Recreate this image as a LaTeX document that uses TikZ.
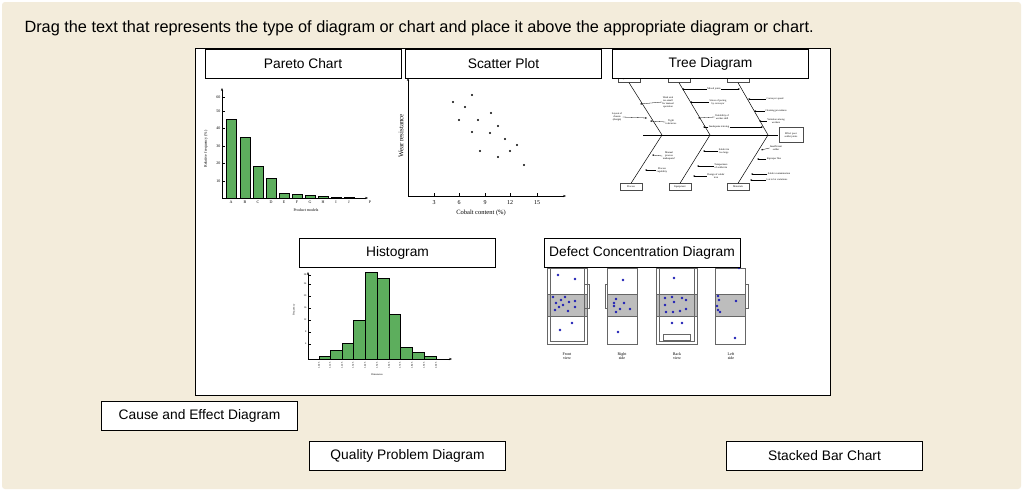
\documentclass[tikz,border=0pt]{standalone}
\usepackage{fontspec}
\setmainfont{Liberation Sans}
\newfontfamily\serifx{Liberation Serif}
\usetikzlibrary{arrows.meta}
\definecolor{bg}{HTML}{F3ECDB}
\definecolor{bar}{HTML}{5DAE5D}
\definecolor{dot}{HTML}{1E1EB4}
\definecolor{band}{HTML}{BDBDBD}
\tikzset{
 lbl/.style={draw=black,line width=0.8pt,fill=white,minimum width=196pt,minimum height=29pt,inner sep=0pt,font=\fontsize{13.8}{16}\selectfont},
 gbar/.style={fill=bar,draw=black,line width=0.6pt},
 tiny/.style={font=\serifx\fontsize{4}{4.5}\selectfont,inner sep=0.5pt},
 mini/.style={font=\serifx\fontsize{2.6}{3}\selectfont,inner sep=0.3pt,align=center},
 sdot/.style={circle,fill=black,inner sep=0pt,minimum size=2.4pt},
 bdot/.style={circle,fill=dot,inner sep=0pt,minimum size=2.6pt},
 fbox/.style={draw=black!70,fill=white,line width=0.4pt,minimum width=22pt,minimum height=7pt,inner sep=0pt,font=\serifx\fontsize{2.6}{3}\selectfont},
 ax/.style={line width=0.6pt},
 ar/.style={-{Stealth[length=2pt]},line width=0.3pt}
}
\begin{document}
\begin{tikzpicture}[x=1pt,y=-1pt]
\useasboundingbox (0,0) rectangle (1024,496);
\fill[white] (0,0) rectangle (1024,496);
\fill[bg,rounded corners=3pt] (2,2) rectangle (1021,489);
\node[anchor=west,font=\fontsize{16.3}{18}\selectfont] (title) at (21,28) {Drag the text that represents the type of diagram or chart and place it above the appropriate diagram or chart.};
\node[draw=black,line width=0.8pt,fill=white,minimum width=635pt,minimum height=347pt,anchor=north west,inner sep=0pt] (panel) at (195,48) {};

% Pareto
\draw[ax,-{Stealth[length=3pt]}] (222,198) -- (222,88);
\draw[ax,-{Stealth[length=3pt]}] (222,198) -- (368,198);
\foreach \x/\t/\l in {226/119/A,240/137/B,253/166/C,266/178/D,279/193/E,292/194/F,305/195/G,318/196/H,331/197/I,344/197/J}{
  \draw[gbar] (\x,198) rectangle (\x+10,\t);
  \node[tiny] (p\l) at (\x+5,202.5) {\l};}
\node[tiny] (pP) at (370,202.5) {P};
\node[tiny] (pm) at (306,210) {Product models};
\foreach \v/\y in {10/181,20/163,30/146,40/128,50/111,60/97}{
 \draw[line width=0.3pt] (222,\y) -- (225,\y);
 \node[tiny,anchor=east] (py\v) at (221,\y) {\v};}
\node[tiny,rotate=90] (pyl) at (206,149) {Relative frequency (\%)};

% Scatter
\draw[ax,-{Stealth[length=3pt]}] (408,196) -- (408,78);
\draw[ax,-{Stealth[length=3pt]}] (408,196) -- (566,196);
\foreach \x/\v in {434/3,459/6,485/9,510/12,537/15}{
 \draw[line width=0.3pt] (\x,196) -- (\x,193);
 \node[tiny,font=\serifx\fontsize{6}{7}\selectfont] (sx\v) at (\x,203) {\v};}
\node[font=\serifx\fontsize{6.5}{7}\selectfont,inner sep=0] (sxl) at (481,213) {Cobalt content (\%)};
\node[font=\serifx\fontsize{7}{8}\selectfont,rotate=90,inner sep=0] (syl) at (401,136) {Wear resistance};
\foreach \x/\y [count=\i] in {453/102,472/95,465/107,491/113,459/120,478/120,498/126,472/132,490/133,505/139,517/145,480/151,510/151,498/157,524/165}
 \node[sdot] (s\i) at (\x,\y) {};

% Fishbone
\draw[line width=0.9pt] (643,135) -- (778,135);
\node[fbox,minimum width=24pt,minimum height=15pt,align=center] (eff) at (791,135) {Effect poor\\solder joints};
\node[fbox] (t1) at (629,79) {Specification};
\node[fbox] (t2) at (679,79) {Product};
\node[fbox] (t3) at (738,79) {Method};
\node[fbox] (b1) at (631,187) {Process};
\node[fbox] (b2) at (680,187) {Equipment};
\node[fbox] (b3) at (738,187) {Materials};
\coordinate (j1) at (662,135); \coordinate (j2) at (710,135); \coordinate (j3) at (768,135);
\draw[line width=0.5pt] (t1.south) -- (j1); \draw[line width=0.5pt] (t2.south) -- (j2); \draw[line width=0.5pt] (t3.south) -- (j3);
\draw[line width=0.5pt] (b1.north) -- (j1); \draw[line width=0.5pt] (b2.north) -- (j2); \draw[line width=0.5pt] (b3.north) -- (j3);
\node[mini] (f1) at (668,102) {Work unit\\too small\\for manual\\operation};
\draw[ar] (f1.west) -- (640,104);
\node[mini] (f2) at (617,117) {Layout of\\chassis\\(design)};
\draw[ar] (f2.east) -- (647,118);
\node[mini] (f3) at (671,122) {Tight\\tolerances};
\draw[ar] (f3.west) -- (650,121);
\node[mini] (f4) at (714,89) {Mixed joints};
\draw[ar] (f4.west) -- (682,89); \draw[ar] (f4.east) -- (740,89);
\node[mini] (f5) at (718,102) {Stress of pacing\\by conveyor};
\draw[ar] (f5.west) -- (690,102);
\node[mini] (f6) at (722,117) {Variability of\\worker skill};
\draw[ar] (f6.west) -- (698,118);
\node[mini] (f7) at (719,127) {Inadequate training};
\draw[ar] (f7.west) -- (703,127); \draw[ar] (f7.east) -- (763,127);
\node[mini] (f8) at (775,99) {Conveyor speed};
\draw[ar] (f8.west) -- (748,99);
\node[mini] (f9) at (776,111) {Cleaning procedures};
\draw[ar] (f9.west) -- (754,111);
\node[mini] (f10) at (776,121) {Variation among\\workers};
\draw[ar] (f10.west) -- (759,121);
\node[mini] (g1) at (669,156) {Manual\\process\\inadequate?};
\draw[ar] (g1.west) -- (652,155);
\node[mini] (g2) at (662,170) {Process\\capability};
\draw[ar] (g2.west) -- (645,170);
\node[mini] (g3) at (724,151) {Solder tin\\too large};
\draw[ar] (g3.west) -- (703,151);
\node[mini] (g4) at (721,166) {Temperature\\of solder tin};
\draw[ar] (g4.west) -- (697,166);
\node[mini] (g5) at (716,176) {Design of solder\\iron};
\draw[ar] (g5.west) -- (693,176);
\node[mini] (g6) at (776,148) {Insufficient\\solder};
\draw[ar] (g6.west) -- (761,150);
\node[mini] (g7) at (774,159) {Improper flux};
\draw[ar] (g7.west) -- (757,159);
\node[mini] (g8) at (779,174) {Solder contamination};
\draw[ar] (g8.west) -- (751,174);
\node[mini] (g9) at (777,180) {Lot to lot variations};
\draw[ar] (g9.west) -- (750,180);

% Histogram
\draw[ax,-{Stealth[length=3pt]}] (308,359) -- (308,272);
\draw[ax,-{Stealth[length=3pt]}] (308,359) -- (452,359);
\foreach \a/\b/\t in {319/330/356,330/342/350,342/353/343,353/365/320,365/377/272,377/389/278,389/400/314,400/412/347,412/424/352,424/436/356}
 \draw[gbar] (\a,359) rectangle (\b,\t);
\foreach \y/\v in {275/28,284/24,296/20,308/16,320/12,332/8,344/4}{
 \draw[line width=0.3pt] (308,\y) -- (311,\y);
 \node[mini,anchor=east] (hy\v) at (307,\y) {\v};}
\foreach \x/\v in {319/1.0,330/1.1,342/1.2,353/1.3,365/1.4,377/1.5,389/1.6,400/1.7,412/1.8,424/1.9,436/2.0}
 \node[mini,rotate=90,anchor=east] (hx\x) at (\x,362) {\v 25};
\node[mini] (hxl) at (377,375) {Dimension};
\node[mini,rotate=90] (hyl) at (294,310) {Frequency};

% Defect concentration
\foreach \a/\b/\n in {547/587/1,607/637/2,656/697/3,715/745/4}{
 \draw[line width=0.5pt,black!60] (\a,268) rectangle (\b,344);
 \fill[band] (\a,294) rectangle (\b,316);
 \draw[line width=0.5pt,black!60] (\a,294) rectangle (\b,316);}
\draw[line width=0.4pt,black!60] (550,268) -- (550,341) -- (584,341) -- (584,268);
\draw[line width=0.5pt,black!60] (584,284) rectangle (589,308);
\draw[line width=0.5pt,black!60] (605,284) rectangle (607,308);
\draw[line width=0.4pt,black!60] (659,268) -- (659,341) -- (694,341) -- (694,268);
\draw[line width=0.5pt,black!60] (663,334) rectangle (690,340);
\draw[line width=0.5pt,black!60] (745,284) rectangle (748,308);
\foreach \x/\y in {558/275, 575/279, 553/297, 561/300, 565/297, 575/301, 556/303, 563/305, 569/302, 555/310, 559/307, 568/311, 575/307, 572/323, 560/330, 623/280, 616/299, 614/303, 614/306, 624/303, 620/309, 616/312, 630/309, 674/278, 665/298, 672/297, 682/298, 665/305, 674/302, 686/300, 666/312, 673/312, 680/311, 686/309, 672/323, 682/323, 739/268, 718/296, 719/300, 717/306, 718/310, 736/301, 720/312, 735/338, 618/332}
 \node[bdot] at (\x,\y) {};
\node[mini,font=\serifx\fontsize{4}{4.5}\selectfont] (c1) at (567,356) {Front\\view};
\node[mini,font=\serifx\fontsize{4}{4.5}\selectfont] (c2) at (622,356) {Right\\side};
\node[mini,font=\serifx\fontsize{4}{4.5}\selectfont] (c3) at (677,356) {Back\\view};
\node[mini,font=\serifx\fontsize{4}{4.5}\selectfont] (c4) at (731,356) {Left\\side};

% Labels
\node[lbl] (l1) at (303,63.5) {Pareto Chart};
\node[lbl] (l2) at (503.5,63.5) {Scatter Plot};
\node[lbl] (l3) at (710.5,63.5) {Tree Diagram};
\node[lbl] (l4) at (397.5,252.5) {Histogram};
\node[lbl] (l5) at (642,252.5) {Defect Concentration Diagram};
\node[lbl] (l6) at (199.5,415.5) {Cause and Effect Diagram};
\node[lbl] (l7) at (407.5,455.5) {Quality Problem Diagram};
\node[lbl] (l8) at (824.5,455.5) {Stacked Bar Chart};
\end{tikzpicture}
\end{document}
